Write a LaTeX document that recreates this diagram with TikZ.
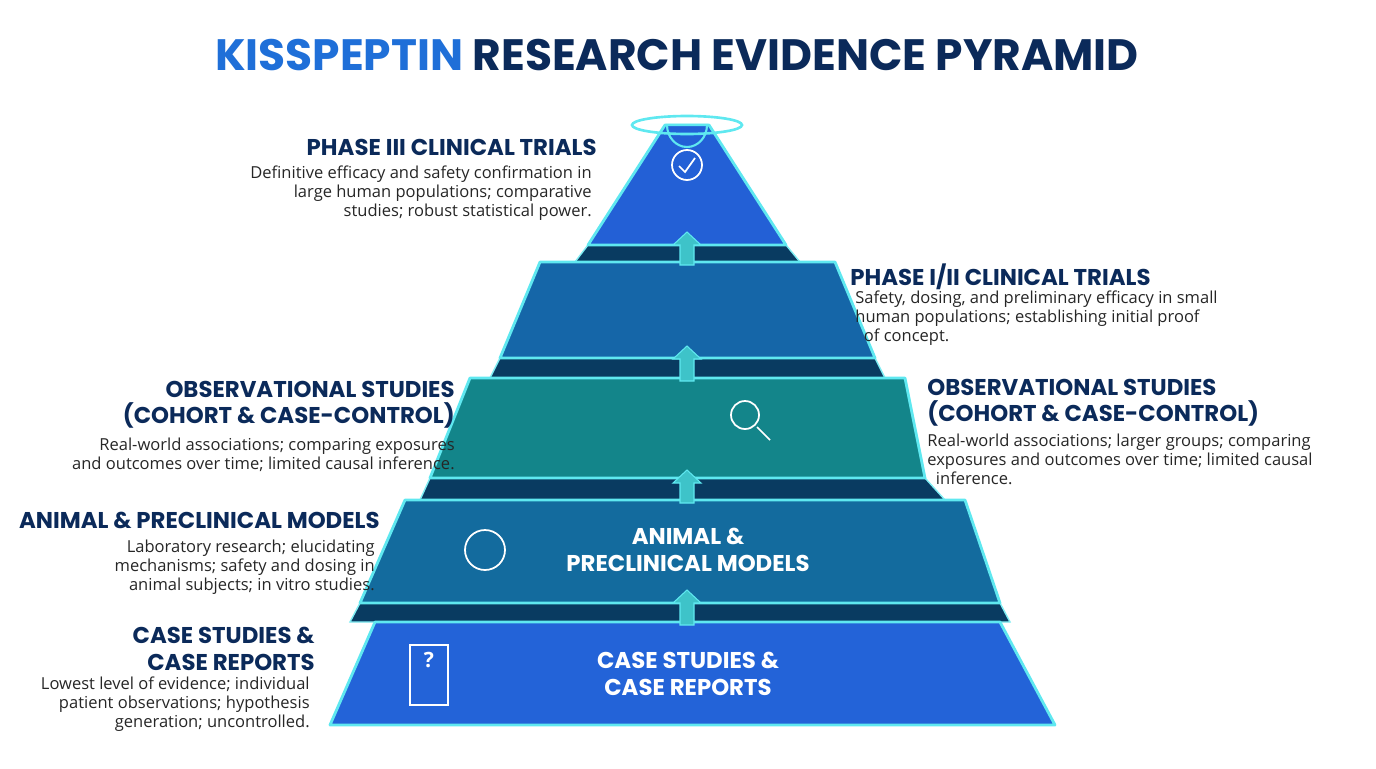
\documentclass[tikz,border=0pt]{standalone}
\usepackage{fontspec}
\setmainfont{Open Sans}
\newfontfamily\headfont{Poppins}
\usepackage{tikz}
\usetikzlibrary{shapes,arrows}
\definecolor{navy}{HTML}{0B2A5A}
\definecolor{titleblue}{HTML}{1F6FD8}
\definecolor{glow}{HTML}{5FE8F0}
\definecolor{tierA}{HTML}{2360D6}
\definecolor{tierB}{HTML}{1566A8}
\definecolor{tierC}{HTML}{13858A}
\definecolor{tierD}{HTML}{136B9E}
\definecolor{tierE}{HTML}{2363D8}
\tikzstyle{tier}=[draw=glow, line width=1.6pt, line join=round]
\tikzstyle{ledge}=[draw=glow!80, line width=0.8pt, fill=navy!80!teal]
\tikzstyle{head}=[font=\headfont\bfseries\fontsize{13}{15}\selectfont, text=navy, inner sep=0pt]
\tikzstyle{body}=[font=\fontsize{9.4}{10.8}\selectfont, text=black!85, inner sep=0pt]
\tikzstyle{inside}=[font=\headfont\bfseries\fontsize{13}{15.5}\selectfont, text=white, align=center]
\tikzstyle{up}=[fill=glow!65!teal, draw=glow, line width=0.6pt]
\tikzstyle{icon}=[draw=white, line width=1pt]
\newcommand{\uparr}[2]{\path [up] (680,#2) -- (694,#2) -- (694,#1+13) -- (701,#1+13) -- (687,#1) -- (673,#1+13) -- (680,#1+13) -- cycle;}
\begin{document}
\begin{tikzpicture}[x=0.02cm, y=-0.02cm]
    \useasboundingbox (0,0) rectangle (1376,768);
    % title
    \node (title) at (677,55) {\headfont\bfseries\fontsize{25}{29}\selectfont\color{titleblue}KISSPEPTIN \color{navy}RESEARCH EVIDENCE PYRAMID};
    % ledges
    \path [ledge] (588,245) -- (786,245) -- (800,262) -- (575,262) -- cycle;
    \path [ledge] (500,358) -- (875,358) -- (885,378) -- (490,378) -- cycle;
    \path [ledge] (430,478) -- (925,478) -- (945,500) -- (420,500) -- cycle;
    \path [ledge] (360,603) -- (1000,603) -- (1010,622) -- (350,622) -- cycle;
    % tiers
    \path [tier, fill=tierE] (330,725) -- (1055,725) -- (1000,622) -- (375,622) -- cycle;
    \path [tier, fill=tierD] (360,603) -- (1000,603) -- (965,500) -- (405,500) -- cycle;
    \path [tier, fill=tierC] (430,478) -- (925,478) -- (905,378) -- (470,378) -- cycle;
    \path [tier, fill=tierB] (500,358) -- (875,358) -- (835,262) -- (540,262) -- cycle;
    \path [tier, fill=tierA] (588,245) -- (786,245) -- (709,125) -- (665,125) -- cycle;
    \path [fill=tierA, draw=glow, line width=1.2pt] (667,125) arc[start angle=180, end angle=0, x radius=20, y radius=22] -- cycle;
    \draw [glow, line width=1.5pt] (687,125) ellipse [x radius=55, y radius=9];
    % arrows
    \uparr{590}{625}
    \uparr{470}{503}
    \uparr{346}{381}
    \uparr{232}{265}
    % icons
    \draw [icon] (687,165) circle (15);
    \draw [icon] (679,166) -- (685,172) -- (695,158);
    \draw [icon] (745,415) circle (14) (757,427) -- (770,440);
    \draw [icon] (410,645) rectangle (448,705);
    \node [text=white, font=\bfseries\large] (q) at (429,660) {?};
    \draw [icon] (485,550) circle (20);
    % inside texts
    \node [inside] (ani) at (688,550) {ANIMAL \&\\PRECLINICAL MODELS};
    \node [inside] (cas) at (688,674) {CASE STUDIES \&\\CASE REPORTS};
    % side labels
    \node [head, anchor=north east] (p3h) at (597,139) {PHASE III CLINICAL TRIALS};
    \node [body, anchor=north east, align=right] (p3b) at (592,166) {Definitive efficacy and safety confirmation in\\large human populations; comparative\\studies; robust statistical power.};
    \node [head, anchor=north west] (p12h) at (850,263) {PHASE I/II CLINICAL TRIALS};
    \node [body, anchor=north west, align=left] (p12b) at (855,291) {Safety, dosing, and preliminary efficacy in small\\human populations; establishing initial proof\\\ \ of concept.};
    \node [head, anchor=north east, align=right] (olh) at (455,381) {OBSERVATIONAL STUDIES\\(COHORT \& CASE-CONTROL)};
    \node [body, anchor=north east, align=right] (olb) at (455,438) {Real-world associations; comparing exposures\\and outcomes over time; limited causal inference.};
    \node [head, anchor=north west, align=left] (orh) at (927,379) {OBSERVATIONAL STUDIES\\(COHORT \& CASE-CONTROL)};
    \node [body, anchor=north west, align=left] (orb) at (927,434) {Real-world associations; larger groups; comparing\\exposures and outcomes over time; limited causal\\\ \ inference.};
    \node [head, anchor=north east] (anh) at (380,512) {ANIMAL \& PRECLINICAL MODELS};
    \node [body, anchor=north east, align=right] (anb) at (375,540) {Laboratory research; elucidating\\mechanisms; safety and dosing in\\animal subjects; in vitro studies.};
    \node [head, anchor=north east, align=right] (cah) at (315,627) {CASE STUDIES \&\\CASE REPORTS};
    \node [body, anchor=north east, align=right] (cab) at (310,677) {Lowest level of evidence; individual\\patient observations; hypothesis\\generation; uncontrolled.};
  \end{tikzpicture}
\end{document}
